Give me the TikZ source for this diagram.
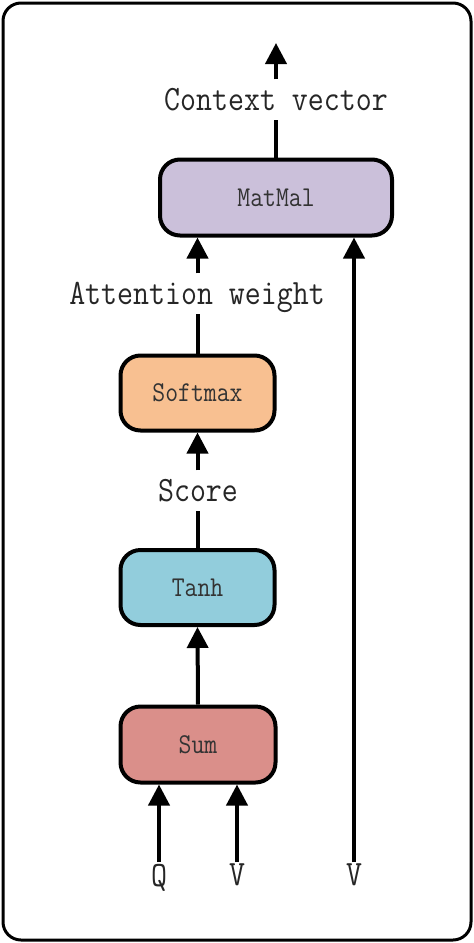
\documentclass[tikz,border=0pt]{standalone}
\usepackage{graphicx}
\usetikzlibrary{arrows.meta}
\newcommand{\tallt}[1]{\scalebox{1}[1.15]{#1}}
\begin{document}
\begin{tikzpicture}[x=1pt,y=-1pt,
  box/.style={draw=black, line width=4pt, rounded corners=20pt, inner sep=0pt,
    font=\fontsize{25}{25}\selectfont\ttfamily, text=black!80},
  lbl/.style={inner xsep=2pt, inner ysep=9pt, text height=22pt, text depth=0pt,
    font=\fontsize{31}{31}\selectfont\ttfamily, text=black!85},
  inlbl/.style={inner sep=2pt, font=\fontsize{31}{31}\selectfont\ttfamily, text=black!85},
  conn/.style={line width=4pt},
  arr/.style={line width=4pt, -{Triangle[length=21pt,width=21pt]}}
]
\useasboundingbox (0,0) rectangle (474,943);
\draw[line width=3pt, rounded corners=18pt] (3,3) rectangle (471,940);

\node[box, fill={rgb,255:red,203;green,192;blue,218}, minimum width=232pt, minimum height=76pt] (matmal) at (276,197.5) {\tallt{MatMal}};
\node[box, fill={rgb,255:red,248;green,192;blue,145}, minimum width=154pt, minimum height=75pt] (softmax) at (197.5,393) {\tallt{Softmax}};
\node[box, fill={rgb,255:red,146;green,205;blue,220}, minimum width=154pt, minimum height=75pt] (tanh) at (197.5,587.5) {\tallt{Tanh}};
\node[box, fill={rgb,255:red,218;green,143;blue,138}, minimum width=155pt, minimum height=76pt] (sum) at (198,744.5) {\tallt{Sum}};

\node[lbl] (ctx) at (276,99.5) {\tallt{Context vector}};
\node[lbl] (attn) at (197,293.5) {\tallt{Attention weight}};
\node[lbl] (score) at (198,490.5) {\tallt{Score}};
\coordinate (top) at (276,43);

\node[inlbl, anchor=north] (q) at (159,862) {\tallt{Q}};
\node[inlbl, anchor=north] (v1) at (237,862) {\tallt{V}};
\node[inlbl, anchor=north] (v2) at (354,862) {\tallt{V}};

\draw[conn] (matmal.north) -- (ctx.south);
\draw[arr] (ctx.north) -- (top);
\draw[conn] (softmax.north) -- (softmax.north |- attn.south);
\draw[arr] (attn.north -| softmax.north) -- (softmax.north |- matmal.south);
\draw[arr] (v2.north) -- (v2.north |- matmal.south);
\draw[conn] (tanh.north) -- (tanh.north |- score.south);
\draw[arr] (tanh.north |- score.north) -- (softmax.south);
\draw[arr] (sum.north) -- (tanh.south);
\draw[arr] (q.north) -- (q.north |- sum.south);
\draw[arr] (v1.north) -- (v1.north |- sum.south);
\end{tikzpicture}
\end{document}
